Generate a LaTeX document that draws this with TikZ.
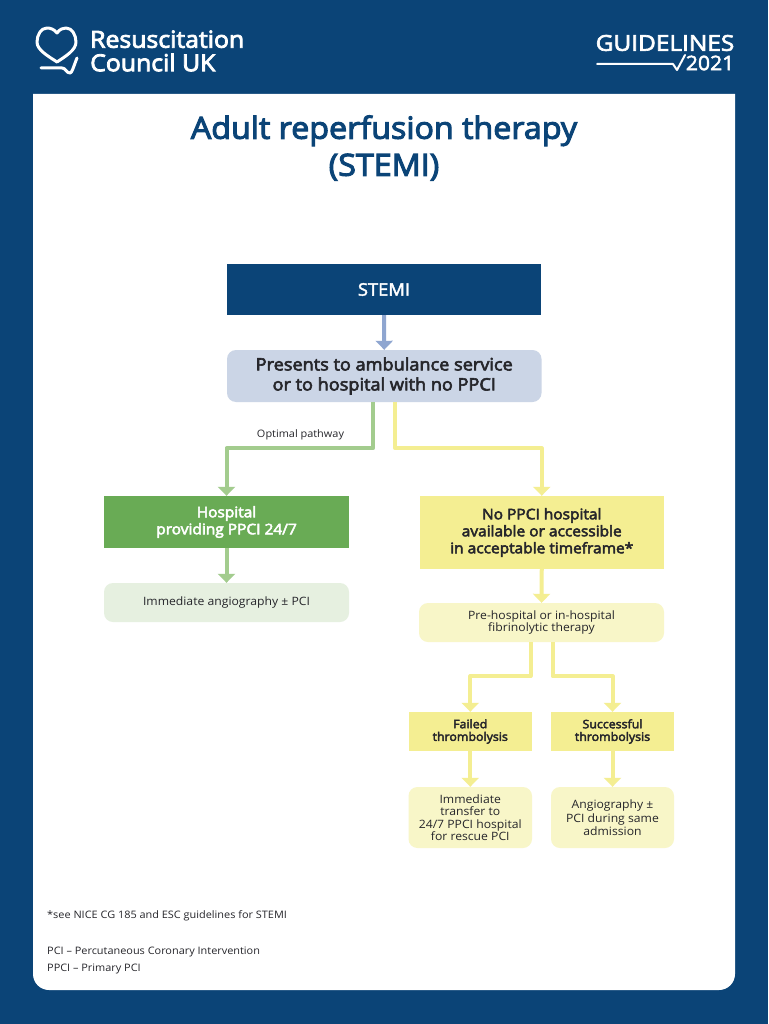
\documentclass[tikz,border=0pt]{standalone}
\usepackage{fontspec}
\setmainfont{Open Sans}[FakeStretch=1.06]
\newfontfamily\medfont{Open Sans}[FakeBold=2.5,FakeStretch=1.06]
\newfontfamily\semifont{Open Sans}[FakeBold=3.5,FakeStretch=1.06]
\newfontfamily\widefont{Open Sans}[FakeBold=3,FakeStretch=1.12]
\usetikzlibrary{arrows.meta}
\definecolor{navy}{HTML}{0B4477}
\definecolor{paleblue}{HTML}{CBD5E6}
\definecolor{arrowblue}{HTML}{8FA6D0}
\definecolor{midgreen}{HTML}{69AB55}
\definecolor{arrowgreen}{HTML}{A3CC8E}
\definecolor{palegreen}{HTML}{E6F0E0}
\definecolor{midyellow}{HTML}{F4EE92}
\definecolor{paleyellow}{HTML}{F8F6C8}
\definecolor{inktext}{HTML}{26262B}
\tikzset{
  flowbox/.style={inner sep=0pt,align=center,text=inktext},
  soft/.style={flowbox,rounded corners=9pt},
  bigtext/.style={font=\fontsize{17.1}{20}\semifont},
  midtext/.style={font=\fontsize{14.6}{17}\semifont},
  smalltext/.style={font=\fontsize{11.5}{12.5}\selectfont},
  boldsmall/.style={font=\fontsize{11.7}{12.6}\semifont},
  flowline/.style={line width=4pt,line join=round,-{Triangle[width=17pt,length=9pt]}},
  logoline/.style={white,line width=3pt,line cap=round,line join=round},
  guideline/.style={white,line width=2pt,line cap=round,line join=round},
  foot/.style={anchor=west,inner sep=0pt,text=inktext,font=\fontsize{10.3}{12}\selectfont},
}
\begin{document}
\begin{tikzpicture}[x=1pt,y=-1pt]
\useasboundingbox (0,0) rectangle (768,1024);
\fill[navy] (0,0) rectangle (768,1024);
\fill[white] (33,94) -- (735,94) -- (735,974) arc[start angle=0,end angle=90,x radius=16pt,y radius=-16pt] -- (49,990) arc[start angle=90,end angle=180,x radius=16pt,y radius=-16pt] -- cycle;
% logo
\draw[logoline] (57,33) .. controls (54,29) and (50,28) .. (47,28) .. controls (41,28) and (37,35) .. (37,42) .. controls (37,50) and (48,56) .. (57,62) .. controls (66,56) and (76,50) .. (76,42) .. controls (76,35) and (72,28) .. (66,28) .. controls (63,28) and (60,29) .. (57,33) -- cycle;
\draw[logoline] (41,68) -- (62,68) .. controls (66,68) and (66,73) .. (70,73) .. controls (72,73) and (73,68) .. (77,58);
\node[inner sep=0pt,anchor=west,align=left,text=white,font=\fontsize{23.4}{23.5}\semifont] (brand) at (90,51) {Resuscitation\\Council UK};
\node[inner sep=0pt,anchor=east,text=white,font=\fontsize{21.8}{24}\widefont] (guide) at (734.5,43) {GUIDELINES};
\node[inner sep=0pt,anchor=east,text=white,font=\fontsize{20}{24}\medfont] (year) at (734.5,63) {2021};
\draw[guideline] (597,64) -- (673,64) -- (677,70) -- (685,55);
% title
\node[inner sep=0pt,align=center,text=navy,font=\fontsize{30.4}{37}\semifont] (title) at (384,148) {Adult reperfusion therapy\\(STEMI)};
% boxes
\node[flowbox,fill=navy,text=white,minimum width=314pt,minimum height=51pt,font=\fontsize{17.3}{20}\medfont] (stemi) at (384,289.5) {STEMI};
\node[soft,bigtext,fill=paleblue,minimum width=314.5pt,minimum height=52pt] (pres) at (384.25,376) {Presents to ambulance service\\or to hospital with no PPCI};
\node[flowbox,midtext,fill=midgreen,text=white,minimum width=245pt,minimum height=52pt] (hosp) at (226.5,522) {Hospital\\providing PPCI 24/7};
\node[flowbox,midtext,fill=midyellow,minimum width=244.5pt,minimum height=73pt] (nopp) at (541.75,532.5) {No PPCI hospital\\available or accessible\\in acceptable timeframe*};
\node[soft,smalltext,fill=palegreen,minimum width=245pt,minimum height=39pt] (imm) at (226.5,602.5) {Immediate angiography ± PCI};
\node[soft,smalltext,fill=paleyellow,minimum width=245pt,minimum height=39pt] (pre) at (541.5,622.5) {Pre-hospital or in-hospital\\fibrinolytic therapy};
\node[flowbox,boldsmall,fill=midyellow,minimum width=123.5pt,minimum height=39pt] (failed) at (470.25,731.5) {Failed\\thrombolysis};
\node[flowbox,boldsmall,fill=midyellow,minimum width=123pt,minimum height=39pt] (succ) at (612.5,731.5) {Successful\\thrombolysis};
\node[soft,smalltext,fill=paleyellow,minimum width=123.5pt,minimum height=61pt] (trans) at (470.25,817.5) {Immediate\\transfer to\\24/7 PPCI hospital\\for rescue PCI};
\node[soft,smalltext,fill=paleyellow,minimum width=123pt,minimum height=61pt] (ang) at (612.5,817.5) {Angiography ±\\[2pt]PCI during same\\admission};
% connectors
\draw[flowline,arrowblue] (stemi.south) -- (pres.north);
\draw[flowline,arrowgreen] ([xshift=-11pt]pres.south) -- ++(0,46) -| (hosp.north);
\draw[flowline,midyellow] ([xshift=11pt]pres.south) -- ++(0,46) -| (nopp.north);
\draw[flowline,arrowgreen] (hosp.south) -- (imm.north);
\draw[flowline,midyellow] (nopp.south) -- (pre.north);
\draw[flowline,midyellow] ([xshift=-11pt]pre.south) -- ++(0,34) -| (failed.north);
\draw[flowline,midyellow] ([xshift=11pt]pre.south) -- ++(0,34) -| (succ.north);
\draw[flowline,midyellow] (failed.south) -- (trans.north);
\draw[flowline,midyellow] (succ.south) -- (ang.north);
\node[inner sep=0pt,text=inktext,font=\fontsize{10.3}{12}\selectfont] (opt) at (300.5,435) {Optimal pathway};
% footer
\node[foot] (fa) at (47,916) {*see NICE CG 185 and ESC guidelines for STEMI};
\node[foot] (fb) at (47,952) {PCI – Percutaneous Coronary Intervention};
\node[foot] (fc) at (47,969) {PPCI – Primary PCI};
\end{tikzpicture}
\end{document}
